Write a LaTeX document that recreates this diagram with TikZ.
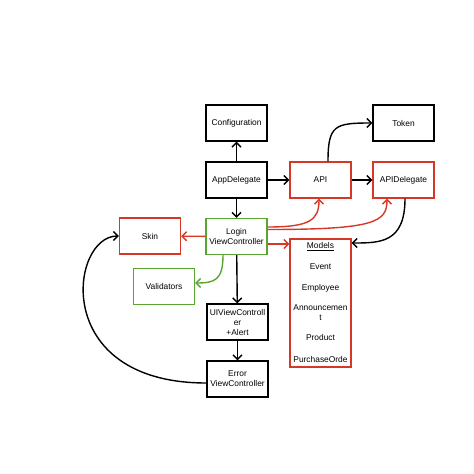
\documentclass[tikz,border=0pt]{standalone}
\usepackage{fontspec}
\setmainfont{Liberation Sans}
\usetikzlibrary{arrows.meta}
\definecolor{boxred}{RGB}{214,56,40}
\definecolor{boxgreen}{RGB}{90,165,50}

\begin{document}
\begin{tikzpicture}[x=1pt,y=-1pt,
  box/.style={draw,line width=1.3pt,minimum width=61pt,minimum height=36pt,inner sep=1pt,align=center,font=\fontsize{8.4}{10}\selectfont},
  redbox/.style={box,draw=boxred},
  greenbox/.style={box,draw=boxgreen},
  link/.style={line width=1.4pt,-{Straight Barb[length=4.5pt,width=9pt]}}]
\useasboundingbox (0,0) rectangle (474,474);
% boxes
\node[box] (config) at (236.5,123) {Configuration};
\node[box] (appdel) at (236.5,180) {AppDelegate};
\node[redbox] (api) at (320.5,180) {API};
\node[redbox] (apidel) at (403.5,180) {APIDelegate};
\node[box] (token) at (403.5,123) {Token};
\node[greenbox] (login) at (236.5,236.5) {Login\\ViewController};
\node[redbox] (skin) at (150,236) {Skin};
\node[greenbox] (valid) at (164,286.5) {Validators};
\node[box] (alert) at (237.5,322) {UIViewControll\\er\\+Alert};
\node[box] (error) at (237.5,379) {Error\\ViewController};
\node[redbox,minimum height=128pt] (models) at (320.5,303) {};
\node[below,font=\fontsize{8.4}{10}\selectfont,align=center,inner sep=0pt] (modellist) at ([yshift=-4pt]models.north)
  {\underline{Models}\\[11pt]Event\\[11pt]Employee\\[10pt]Announcemen\\t\\[10pt]Product\\[12pt]PurchaseOrde};
% black links
\draw[link] (appdel) -- (config);
\draw[link] (appdel) -- (api);
\draw[link] (appdel) -- (login);
\draw[link] (api) -- (apidel);
\draw[link] (api.north -| 328,0) .. controls (328,125) and (335,123) .. (token.west);
\draw[link] (apidel.south -| 405,0) .. controls (405,243) and (380,243) .. (models.east |- 0,243);
\draw[link] (login) -- (alert);
\draw[link] (alert) -- (error);
\draw[link] (error.west |- 0,383) .. controls (50,383) and (70,236) .. (skin.west);
% red links
\draw[link,boxred] (login) -- (skin);
\draw[link,boxred] (login.east |- 0,244) -- (models.west |- 0,244);
\draw[link,boxred] (login.east |- 0,227) .. controls (310,227) and (319,220) .. (api.south -| 319,0);
\draw[link,boxred] (login.east |- 0,229.5) .. controls (375,229.5) and (387,222) .. (apidel.south -| 387,0);
% green link
\draw[link,boxgreen] (login.south -| 223,0) .. controls (223,280) and (215,283) .. (valid.east |- 0,283);
\end{tikzpicture}
\end{document}
